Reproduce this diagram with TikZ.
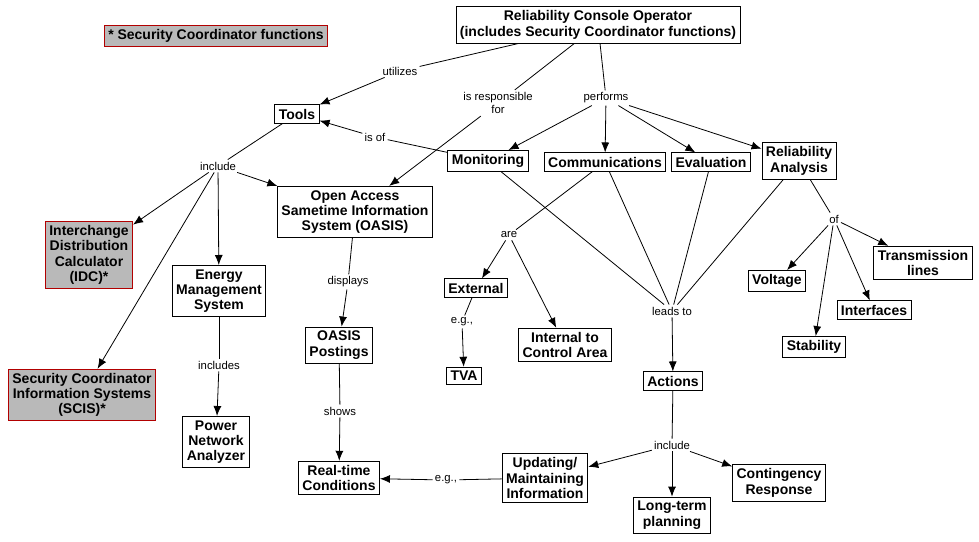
\documentclass[tikz,border=0pt]{standalone}
\usepackage{fontspec}
\setmainfont{Liberation Sans}
\usetikzlibrary{arrows.meta,positioning}
\tikzset{
    concept/.style = {draw, semithick, fill=white, align=center, font=\bfseries\fontsize{10.5}{11.5}\selectfont, inner sep=3pt},
    marked/.style  = {concept, fill=gray!55, draw=red!70!black},
    phrase/.style  = {align=center, font=\fontsize{8.5}{10}\selectfont, fill=white, inner sep=1.5pt},
    headarrow/.style = {-{Latex[length=.75em,width=.6em]}, semithick},
    plainline/.style = {semithick}
}

\begin{document}
\begin{tikzpicture}[x=0.75pt,y=-0.75pt]
    \useasboundingbox (0,0) rectangle (979,542);

    % concepts
    \node[concept] (RCO) at (598,25) {Reliability Console Operator\\(includes Security Coordinator functions)};
    \node[marked]  (SCF) at (216,36) {* Security Coordinator functions};
    \node[concept] (Tools) at (297,114) {Tools};
    \node[concept] (Mon) at (488,161) {Monitoring};
    \node[concept] (Com) at (605,162) {Communications};
    \node[concept] (Eval) at (711,162) {Evaluation};
    \node[concept] (RA) at (799,161) {Reliability\\Analysis};
    \node[concept] (OASIS) at (355,212) {Open Access\\Sametime Information\\System (OASIS)};
    \node[marked]  (IDC) at (89,255) {Interchange\\Distribution\\Calculator\\(IDC)*};
    \node[concept] (EMS) at (219,291) {Energy\\Management\\System};
    \node[marked]  (SCIS) at (82,395) {Security Coordinator\\Information Systems\\(SCIS)*};
    \node[concept] (Post) at (339,345) {OASIS\\Postings};
    \node[concept] (PNA) at (216,442) {Power\\Network\\Analyzer};
    \node[concept] (Real) at (339,478) {Real-time\\Conditions};
    \node[concept] (Ext) at (476,288) {External};
    \node[concept] (TVA) at (464,376) {TVA};
    \node[concept] (Int) at (565,345) {Internal to\\Control Area};
    \node[concept] (Act) at (673,381) {Actions};
    \node[concept] (Upd) at (545,478) {Updating/\\Maintaining\\Information};
    \node[concept] (Long) at (672,515) {Long-term\\planning};
    \node[concept] (Cont) at (779,483) {Contingency\\Response};
    \node[concept] (Volt) at (777,281) {Voltage};
    \node[concept] (Trans) at (923,263) {Transmission\\lines};
    \node[concept] (Intf) at (874,310) {Interfaces};
    \node[concept] (Stab) at (814,347) {Stability};

    % linking phrases
    \node[phrase] (utilizes) at (400,71) {utilizes};
    \node[phrase] (resp) at (498,103) {is responsible\\for};
    \node[phrase] (performs) at (606,98) {performs};
    \node[phrase] (isof) at (375,137) {is of};
    \node[phrase] (incl) at (218,166) {include};
    \node[phrase] (are) at (509,235) {are};
    \node[phrase] (eg) at (462,322) {e.g.,};
    \node[phrase] (displays) at (348,282) {displays};
    \node[phrase] (includes) at (219,365) {includes};
    \node[phrase] (shows) at (340,411) {shows};
    \node[phrase] (leads) at (672,311) {leads to};
    \node[phrase] (inclA) at (672,445) {include};
    \node[phrase] (egU) at (446,480) {e.g.,};
    \node[phrase] (of) at (834,219) {of};

    % plain lines into phrases
    \foreach \Source/\Target in {%
        RCO/utilizes, RCO/resp, RCO/performs,
        Mon/isof, Tools/incl, Com/are, Ext/eg,
        OASIS/displays, EMS/includes, Post/shows,
        Mon/leads, Com/leads, Eval/leads, RA/leads,
        Act/inclA, Upd/egU, RA/of%
        }
        \draw[plainline] (\Source) -- (\Target);

    % arrows out of phrases
    \foreach \Source/\Target in {%
        utilizes/Tools, resp/OASIS,
        performs/Mon, performs/Com, performs/Eval, performs/RA,
        isof/Tools,
        incl/IDC, incl/EMS, incl/SCIS, incl/OASIS,
        are/Ext, are/Int, eg/TVA,
        displays/Post, includes/PNA, shows/Real,
        leads/Act,
        inclA/Upd, inclA/Long, inclA/Cont, egU/Real,
        of/Volt, of/Trans, of/Intf, of/Stab%
        }
        \draw[headarrow] (\Source) -- (\Target);
\end{tikzpicture}
\end{document}
